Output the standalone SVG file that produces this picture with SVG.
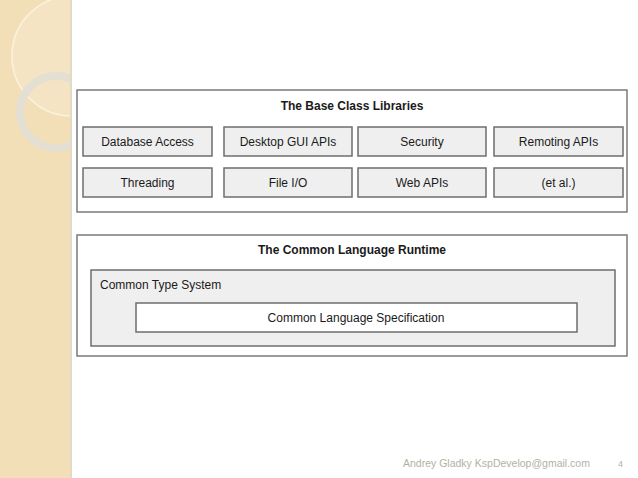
<svg xmlns="http://www.w3.org/2000/svg" width="638" height="478" viewBox="0 0 638 478">
<style>
text{font-family:"Liberation Sans",Arial,sans-serif;fill:#1a1a1a;dominant-baseline:central}
.outer{fill:#fff;stroke:#7a7a7a;stroke-width:1.5}
.item{fill:#efefef;stroke:#6e6e6e;stroke-width:1.5}
.t{font-size:12px;text-anchor:middle}
.h{font-size:12px;font-weight:bold;text-anchor:middle}
</style>
<defs>
<clipPath id="strip"><rect x="0" y="0" width="70" height="478"/></clipPath>
</defs>
<rect width="638" height="478" fill="#fff"/>
<g id="background">
<rect x="0" y="0" width="70" height="478" fill="#f2dfb7"/>
<rect x="70" y="0" width="2" height="478" fill="#e2d9c9"/>
<g clip-path="url(#strip)">
<circle cx="72" cy="56" r="60" fill="#fff" fill-opacity="0.18" stroke="#fbf3e0" stroke-width="1.5"/>
<circle cx="56" cy="112" r="36" fill="none" stroke="#e4dfd3" stroke-width="8"/>
</g>
</g>
<g id="bcl">
<rect class="outer" x="77" y="90" width="550" height="122"/>
<text class="h" x="352" y="106">The Base Class Libraries</text>
</g>
<g id="database-access"><rect class="item" x="83" y="127" width="129" height="29"/><text class="t" x="147.5" y="141.5">Database Access</text></g>
<g id="desktop-gui-apis"><rect class="item" x="224" y="127" width="128" height="29"/><text class="t" x="288" y="141.5">Desktop GUI APIs</text></g>
<g id="security"><rect class="item" x="358" y="127" width="128" height="29"/><text class="t" x="422" y="141.5">Security</text></g>
<g id="remoting-apis"><rect class="item" x="494" y="127" width="129" height="29"/><text class="t" x="558.5" y="141.5">Remoting APIs</text></g>
<g id="threading"><rect class="item" x="83" y="168" width="129" height="29"/><text class="t" x="147.5" y="182.5">Threading</text></g>
<g id="file-io"><rect class="item" x="224" y="168" width="128" height="29"/><text class="t" x="288" y="182.5">File I/O</text></g>
<g id="web-apis"><rect class="item" x="358" y="168" width="128" height="29"/><text class="t" x="422" y="182.5">Web APIs</text></g>
<g id="et-al"><rect class="item" x="494" y="168" width="129" height="29"/><text class="t" x="558.5" y="182.5">(et al.)</text></g>
<g id="clr">
<rect class="outer" x="77" y="235" width="550" height="121"/>
<text class="h" x="352" y="250">The Common Language Runtime</text>
</g>
<g id="cts">
<rect class="item" x="91" y="270" width="524" height="76"/>
<text x="100" y="285" style="font-size:12px">Common Type System</text>
</g>
<g id="cls">
<rect x="136" y="303" width="441" height="29" fill="#fff" stroke="#6e6e6e" stroke-width="1.5"/>
<text class="t" x="356" y="317.5">Common Language Specification</text>
</g>
<g id="footer">
<text x="403" y="463" style="font-size:10.5px;fill:#b3b0a6">Andrey Gladky KspDevelop@gmail.com</text>
<text x="618" y="464" style="font-size:9px;fill:#b3b0a6">4</text>
</g>
</svg>
